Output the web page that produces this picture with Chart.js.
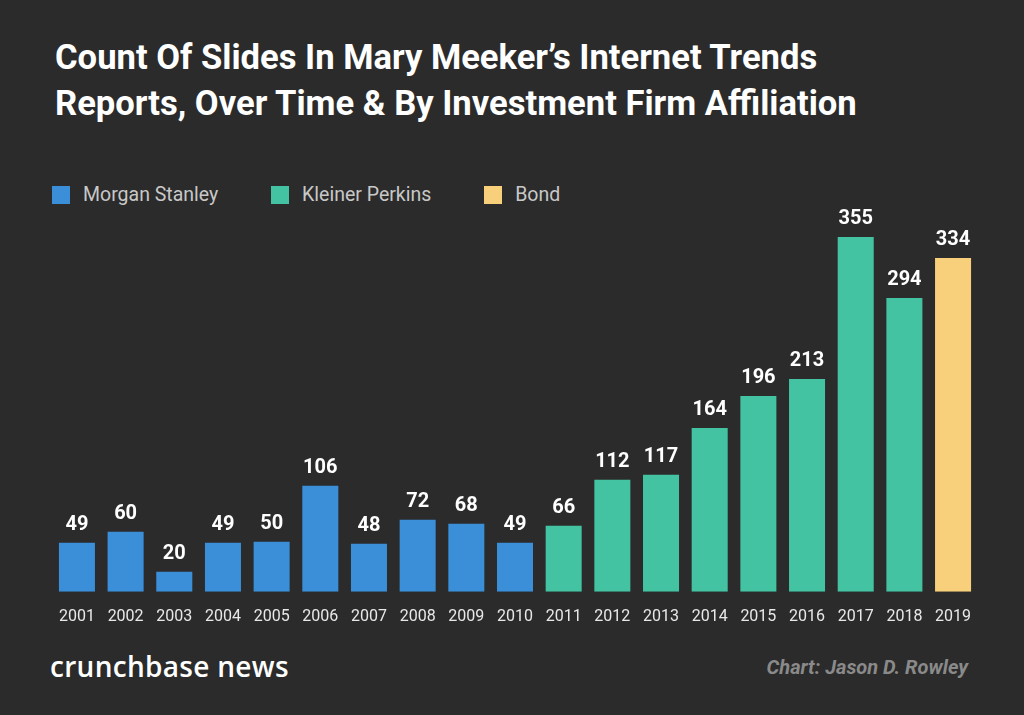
<!DOCTYPE html>
<html>
<head>
<meta charset="utf-8">
<script src="https://cdn.jsdelivr.net/npm/chart.js@4"></script>
<style>
    body { margin: 0; background: #2b2b2b; font-family: Roboto, sans-serif; }
    #page { position: relative; width: 1024px; height: 715px; overflow: hidden; }
    #title { position: absolute; left: 55px; top: 34px; color: #fff; font-size: 34.6px; font-weight: bold; line-height: 46px; }
    #legend { position: absolute; left: 52px; top: 183px; color: #c8c8c8; font-size: 19.5px; }
    #legend span.item { display: inline-block; margin-right: 48px; }
    #legend span.box { display: inline-block; width: 18px; height: 18px; vertical-align: -3px; margin-right: 13px; }
    #brand { position: absolute; left: 50px; top: 647px; color: #fff; font-size: 28px; font-family: "Open Sans", sans-serif; font-weight: 600; letter-spacing: 0.3px; }
    #credit { position: absolute; right: 56px; top: 655px; color: #8a8a8a; font-size: 20px; font-style: italic; font-weight: bold; }
    #wrap { position: absolute; left: 51px; top: 180px; width: 928px; height: 455px; }
</style>
</head>
<body>
<div id="page">
    <div id="title">Count Of Slides In Mary Meeker’s Internet Trends<br>Reports, Over Time &amp; By Investment Firm Affiliation</div>
    <div id="legend">
        <span class="item"><span class="box" style="background:#3a8fd8"></span>Morgan Stanley</span>
        <span class="item"><span class="box" style="background:#43c3a2"></span>Kleiner Perkins</span>
        <span class="item"><span class="box" style="background:#f8d07c"></span>Bond</span>
    </div>
    <div id="wrap"><canvas id="chart"></canvas></div>
    <div id="brand">crunchbase news</div>
    <div id="credit">Chart: Jason D. Rowley</div>
</div>
<script>
const years = ['2001','2002','2003','2004','2005','2006','2007','2008','2009','2010',
    '2011','2012','2013','2014','2015','2016','2017','2018','2019'];
const morganStanley = [49, 60, 20, 49, 50, 106, 48, 72, 68, 49, null, null, null, null, null, null, null, null, null];
const kleinerPerkins = [null, null, null, null, null, null, null, null, null, null, 66, 112, 117, 164, 196, 213, 355, 294, null];
const bond = [null, null, null, null, null, null, null, null, null, null, null, null, null, null, null, null, null, null, 334];

const valueLabels = {
    id: 'valueLabels',
    afterDatasetsDraw(chart) {
        const ctx = chart.ctx;
        ctx.save();
        ctx.fillStyle = '#fff';
        ctx.font = 'bold 20px Roboto';
        ctx.textAlign = 'center';
        ctx.textBaseline = 'bottom';
        chart.data.datasets.forEach((ds, i) => {
            chart.getDatasetMeta(i).data.forEach((bar, j) => {
                if (ds.data[j] == null) return;
                ctx.fillText(ds.data[j], bar.x, bar.y - 8);
            });
        });
        ctx.restore();
    }
};

new Chart(document.getElementById('chart'), {
    type: 'bar',
    data: {
        labels: years,
        datasets: [
            {label: 'Morgan Stanley', data: morganStanley, backgroundColor: '#3a8fd8'},
            {label: 'Kleiner Perkins', data: kleinerPerkins, backgroundColor: '#43c3a2'},
            {label: 'Bond', data: bond, backgroundColor: '#f8d07c'}
        ]
    },
    options: {
        responsive: true,
        maintainAspectRatio: false,
        animation: false,
        layout: {padding: {top: 12}},
        datasets: {bar: {categoryPercentage: 0.74, barPercentage: 1}},
        plugins: {legend: {display: false}, tooltip: {enabled: false}},
        scales: {
            x: {
                stacked: true,
                grid: {display: false},
                border: {display: false},
                ticks: {color: '#e8e8e8', font: {size: 16, family: 'Roboto'}, padding: 8, maxRotation: 0, autoSkip: false}
            },
            y: {stacked: true, display: false, min: 0, max: 400}
        }
    },
    plugins: [valueLabels]
});
</script>
</body>
</html>
